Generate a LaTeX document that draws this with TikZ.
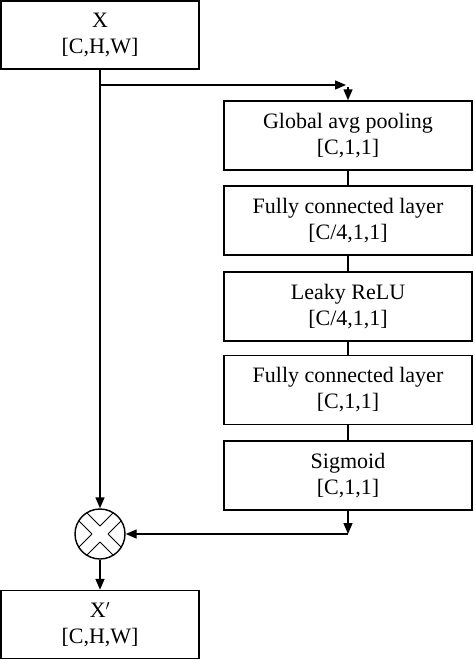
\documentclass[tikz,border=0pt]{standalone}
\usepackage{fontspec}
\setmainfont{Liberation Serif}
\usetikzlibrary{arrows.meta,calc}
\begin{document}
\begin{tikzpicture}[x=1pt,y=-1pt,line width=1.4pt,
  blk/.style={draw,rectangle,inner sep=0pt,align=center,
    font=\fontsize{22}{26}\selectfont},
  lbox/.style={blk,minimum width=198pt,minimum height=68pt},
  rbox/.style={blk,minimum width=248pt,minimum height=69pt},
  arr/.style={-{Triangle[length=11pt,width=9pt]}}]
\useasboundingbox (0,0) rectangle (474,660);
\node[lbox] (x) at (100,35) {X\\{}[C,H,W]};
\node[rbox] (gap) at (348,135.5) {Global avg pooling\\{}[C,1,1]};
\node[rbox] (fc1) at (348,220.5) {Fully connected layer\\{}[C/4,1,1]};
\node[rbox] (lr) at (348,306.5) {Leaky ReLU\\{}[C/4,1,1]};
\node[rbox] (fc2) at (348,390) {Fully connected layer\\{}[C,1,1]};
\node[rbox] (sg) at (348,475.5) {Sigmoid\\{}[C,1,1]};
\node[draw,circle,minimum size=50pt,inner sep=0pt] (mul) at (100,534) {};
\node[lbox] (xo) at (100,624.5) {X$'$\\{}[C,H,W]};
\begin{scope}
  \clip (mul.center) circle (25pt);
  \foreach \a in {0,90,180,270}{
    \draw[line width=1pt,rotate around={\a:(mul.center)}]
      ($(mul.center)+(0,-8)$) -- ++(-30,-30)
      ($(mul.center)+(0,-8)$) -- ++(30,-30);
  }
\end{scope}
\coordinate (br) at (100,85);
\coordinate (bt) at (348,87);
\coordinate (sj) at (348,534);
\draw[arr] (x.south) -- (mul.north);
\draw[arr] (br) -- (346,85);
\draw[arr] (bt) -- (gap.north);
\draw (gap) -- (fc1);
\draw (fc1) -- (lr);
\draw (lr) -- (fc2);
\draw (fc2) -- (sg);
\draw[arr] (sg.south) -- (sj);
\draw[arr] (sj) -- (mul.east);
\draw[arr] (mul.south) -- (xo.north);
\end{tikzpicture}
\end{document}
